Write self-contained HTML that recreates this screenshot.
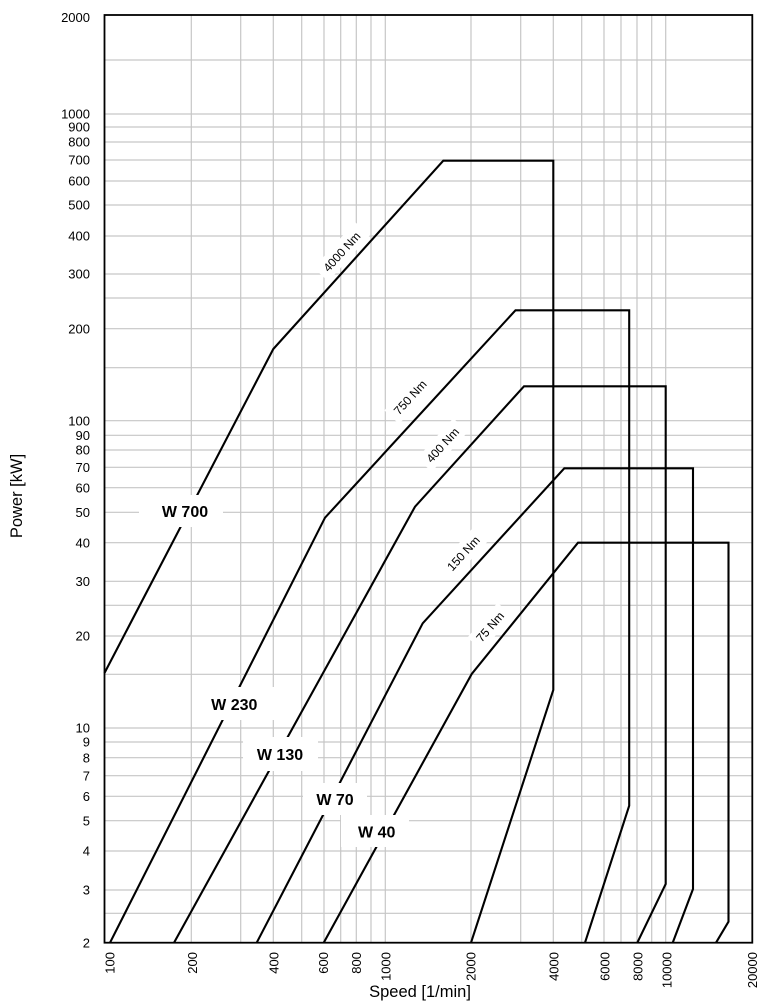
<!DOCTYPE html>
<html><head><meta charset="utf-8"><style>
html,body{margin:0;padding:0;background:#fff;}
svg{display:block;}
text{font-family:"Liberation Sans",Arial,sans-serif;fill:#000;}
</style></head><body>
<svg width="768" height="1004" viewBox="0 0 768 1004" xmlns="http://www.w3.org/2000/svg">
<rect width="768" height="1004" fill="#fff"/>
<g stroke="#c6c6c6" stroke-width="1.2" fill="none">
<!-- horizontal grid -->
<path d="M104.5 60H752.3M104.5 114H752.3M104.5 127H752.3M104.5 142H752.3M104.5 160H752.3M104.5 181H752.3M104.5 205H752.3M104.5 236H752.3M104.5 274H752.3M104.5 298H752.3M104.5 328.7H752.3M104.5 367.7H752.3M104.5 420.7H752.3M104.5 435.3H752.3M104.5 450H752.3M104.5 467.3H752.3M104.5 487.7H752.3M104.5 512.3H752.3M104.5 542.7H752.3M104.5 581.3H752.3M104.5 605.3H752.3M104.5 636H752.3M104.5 674.3H752.3M104.5 728H752.3M104.5 742H752.3M104.5 757.7H752.3M104.5 775.7H752.3M104.5 796.3H752.3M104.5 820.7H752.3M104.5 851H752.3M104.5 890H752.3M104.5 913.3H752.3"/>
<!-- vertical grid -->
<path d="M191.3 15V942.7M240.7 15V942.7M273.3 15V942.7M301.7 15V942.7M324 15V942.7M340.7 15V942.7M356.3 15V942.7M371 15V942.7M385.3 15V942.7M471 15V942.7M520.7 15V942.7M553.3 15V942.7M581.7 15V942.7M604 15V942.7M621 15V942.7M637 15V942.7M651.7 15V942.7M665.7 15V942.7"/>
</g>
<!-- curves -->
<g stroke="#000" stroke-width="2.1" fill="none" stroke-linejoin="miter">
<path d="M104.5 673L273.3 349L443.3 160.7L553.3 160.7L553.3 690L471 942.7"/>
<path d="M110 942.7L325 517.7L515.5 310.3L629.2 310.3L629.2 805.7L585 942.7"/>
<path d="M174 942.7L415 506.7L524 386.3L665.7 386.3L665.7 884L637.3 942.7"/>
<path d="M256.7 942.7L422.7 623.3L564.3 468.3L693 468.3L693 889L672.7 942.7"/>
<path d="M323.7 942.7L471.7 674L578 542.7L728.5 542.7L728.5 921.7L716 942.7"/>
</g>
<!-- W label boxes -->
<g fill="#fff">
<rect x="139" y="495" width="84" height="32"/>
<rect x="192" y="687" width="85" height="33"/>
<rect x="243" y="737" width="75" height="34"/>
<rect x="303" y="783" width="64" height="32"/>
<rect x="341" y="815" width="68" height="32"/>
</g>
<g font-weight="bold" font-size="16" text-anchor="middle">
<text x="185" y="516.8">W 700</text>
<text x="234.3" y="709.8">W 230</text>
<text x="280" y="760">W 130</text>
<text x="335" y="805">W 70</text>
<text x="376.7" y="837.4">W 40</text>
</g>
<!-- torque labels -->
<g font-size="12" text-anchor="middle">
<g transform="translate(341.7 251.7) rotate(-47.9)"><rect x="-31" y="-10" width="62" height="20" fill="#fff"/><text x="0" y="4.3">4000 Nm</text></g>
<g transform="translate(410 397.3) rotate(-47.4)"><rect x="-27" y="-10" width="54" height="20" fill="#fff"/><text x="0" y="4.3">750 Nm</text></g>
<g transform="translate(442.5 445) rotate(-47.8)"><rect x="-27" y="-10" width="54" height="20" fill="#fff"/><text x="0" y="4.3">400 Nm</text></g>
<g transform="translate(463.3 553.3) rotate(-47.6)"><rect x="-27" y="-10" width="54" height="20" fill="#fff"/><text x="0" y="4.3">150 Nm</text></g>
<g transform="translate(490 626.7) rotate(-49)"><rect x="-23" y="-10" width="46" height="20" fill="#fff"/><text x="0" y="4.3">75 Nm</text></g>
</g>
<!-- border -->
<rect x="104.5" y="15" width="647.8" height="927.7" fill="none" stroke="#000" stroke-width="1.8"/>
<!-- y tick labels -->
<g font-size="13" text-anchor="end">
<text x="90" y="21.8">2000</text>
<text x="90" y="118.6">1000</text>
<text x="90" y="131.6">900</text>
<text x="90" y="146.6">800</text>
<text x="90" y="164.6">700</text>
<text x="90" y="185.6">600</text>
<text x="90" y="209.6">500</text>
<text x="90" y="240.6">400</text>
<text x="90" y="278.6">300</text>
<text x="90" y="333.3">200</text>
<text x="90" y="425.3">100</text>
<text x="90" y="439.9">90</text>
<text x="90" y="454.6">80</text>
<text x="90" y="471.9">70</text>
<text x="90" y="492.3">60</text>
<text x="90" y="516.9">50</text>
<text x="90" y="547.3">40</text>
<text x="90" y="585.9">30</text>
<text x="90" y="640.6">20</text>
<text x="90" y="732.6">10</text>
<text x="90" y="746.6">9</text>
<text x="90" y="762.3">8</text>
<text x="90" y="780.3">7</text>
<text x="90" y="800.9">6</text>
<text x="90" y="825.3">5</text>
<text x="90" y="855.6">4</text>
<text x="90" y="894.6">3</text>
<text x="90" y="947.3">2</text>
</g>
<!-- x tick labels -->
<g font-size="13" text-anchor="end">
<text transform="translate(110 952) rotate(-90)" y="4.6">100</text>
<text transform="translate(192.5 952) rotate(-90)" y="4.6">200</text>
<text transform="translate(274 952) rotate(-90)" y="4.6">400</text>
<text transform="translate(323.5 952) rotate(-90)" y="4.6">600</text>
<text transform="translate(356.5 952) rotate(-90)" y="4.6">800</text>
<text transform="translate(386 952) rotate(-90)" y="4.6">1000</text>
<text transform="translate(471 952) rotate(-90)" y="4.6">2000</text>
<text transform="translate(554 952) rotate(-90)" y="4.6">4000</text>
<text transform="translate(605 952) rotate(-90)" y="4.6">6000</text>
<text transform="translate(638 952) rotate(-90)" y="4.6">8000</text>
<text transform="translate(667 952) rotate(-90)" y="4.6">10000</text>
<text transform="translate(752.5 952) rotate(-90)" y="4.6">20000</text>
</g>
<!-- axis titles -->
<text x="420" y="997" font-size="16.5" text-anchor="middle">Speed [1/min]</text>
<text transform="translate(22 496) rotate(-90)" font-size="16.5" text-anchor="middle">Power [kW]</text>
</svg>
</body></html>
